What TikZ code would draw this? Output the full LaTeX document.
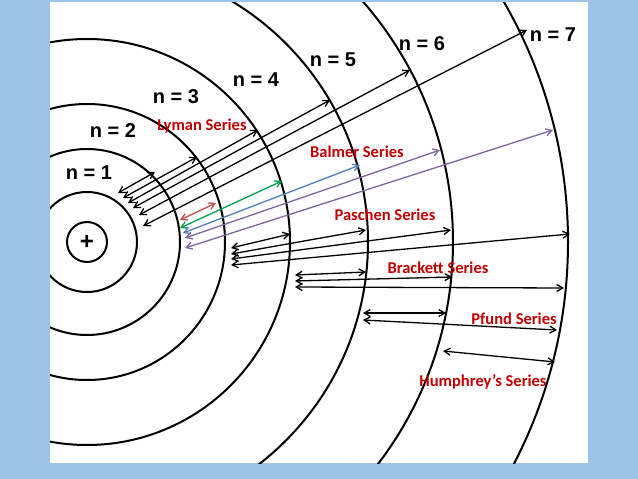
\documentclass[tikz,border=0pt]{standalone}
\usepackage{fontspec}
\setmainfont{Liberation Sans}
\newfontfamily\carlitofont{Carlito}
\usetikzlibrary{arrows.meta}
\definecolor{bg}{HTML}{9DC3E6}
\definecolor{lab}{HTML}{C00000}
\definecolor{cr}{HTML}{C0504D}
\definecolor{cg}{HTML}{00A050}
\definecolor{cb}{HTML}{4F81BD}
\definecolor{cp}{HTML}{8064A2}
\tikzset{
 orbit/.style={line width=2pt},
 nlab/.style={font=\fontsize{20}{20}\selectfont\bfseries},
 slab/.style={font=\carlitofont\fontsize{16.5}{16.5}\selectfont\bfseries,text=lab},
 tr/.style={line width=1.3pt,{Straight Barb[length=6pt,width=7pt]}-{Straight Barb[length=6pt,width=7pt]}}
}
\begin{document}
\begin{tikzpicture}[x=1pt,y=-1pt]
\fill[bg] (0,0) rectangle (638,479);
\fill[white] (50,2) rectangle (588,463);
\begin{scope}
\clip (50,2) rectangle (588,463);
\coordinate (c) at (87,242);
\foreach \r in {20,50,93,138,203,281,366,481} \draw[orbit] (c) circle[radius=\r];
\end{scope}
\node[font=\fontsize{24}{24}\selectfont\bfseries] (plus) at (87,242) {+};
\node[nlab] (n1) at (89,173) {n = 1};
\node[nlab] (n2) at (113,131) {n = 2};
\node[nlab] (n3) at (176,97) {n = 3};
\node[nlab] (n4) at (256,80) {n = 4};
\node[nlab] (n5) at (333,60) {n = 5};
\node[nlab] (n6) at (422,44) {n = 6};
\node[nlab] (n7) at (553,35) {n = 7};
\node[slab] (ly) at (202,126) {Lyman Series};
\node[slab] (ba) at (357,152) {Balmer Series};
\node[slab] (pa) at (385,215) {Paschen Series};
\node[slab] (br) at (438,268) {Brackett Series};
\node[slab] (pf) at (514,319) {Pfund Series};
\node[slab] (hu) at (483,382) {Humphrey’s Series};
% Lyman
\coordinate (l1a) at (118,193); \coordinate (l1b) at (155,172);
\coordinate (l2a) at (123,198); \coordinate (l2b) at (197,157);
\coordinate (l3a) at (128,203); \coordinate (l3b) at (258,130);
\coordinate (l4a) at (133,208); \coordinate (l4b) at (330,100);
\coordinate (l5a) at (139,215); \coordinate (l5b) at (410,70);
\coordinate (l6a) at (143,226); \coordinate (l6b) at (527,30);
\foreach \i in {1,...,6} \draw[tr] (l\i a) -- (l\i b);
% Balmer
\coordinate (b1a) at (180,220); \coordinate (b1b) at (216,203);
\coordinate (b2a) at (180,228); \coordinate (b2b) at (282,181);
\coordinate (b3a) at (183,233); \coordinate (b3b) at (360,165);
\coordinate (b4a) at (185,238); \coordinate (b4b) at (440,150);
\coordinate (b5a) at (185,248); \coordinate (b5b) at (553,130);
\draw[tr,cr] (b1a) -- (b1b);
\draw[tr,cg] (b2a) -- (b2b);
\draw[tr,cb] (b3a) -- (b3b);
\draw[tr,cp] (b4a) -- (b4b);
\draw[tr,cp] (b5a) -- (b5b);
% Paschen
\coordinate (p1a) at (231,248); \coordinate (p1b) at (290,234);
\coordinate (p2a) at (231,254); \coordinate (p2b) at (366,230);
\coordinate (p3a) at (231,259); \coordinate (p3b) at (451,230);
\coordinate (p4a) at (231,265); \coordinate (p4b) at (570,234);
\foreach \i in {1,...,4} \draw[tr] (p\i a) -- (p\i b);
% Brackett
\coordinate (k1a) at (295,275); \coordinate (k1b) at (366,272);
\coordinate (k2a) at (295,281); \coordinate (k2b) at (452,277);
\coordinate (k3a) at (295,287); \coordinate (k3b) at (564,288);
\foreach \i in {1,2,3} \draw[tr] (k\i a) -- (k\i b);
% Pfund
\coordinate (f1a) at (363,313); \coordinate (f1b) at (446,313);
\coordinate (f2a) at (363,320); \coordinate (f2b) at (557,330);
\foreach \i in {1,2} \draw[tr] (f\i a) -- (f\i b);
% Humphrey
\coordinate (h1a) at (443,351); \coordinate (h1b) at (555,362);
\draw[tr] (h1a) -- (h1b);
\end{tikzpicture}
\end{document}
